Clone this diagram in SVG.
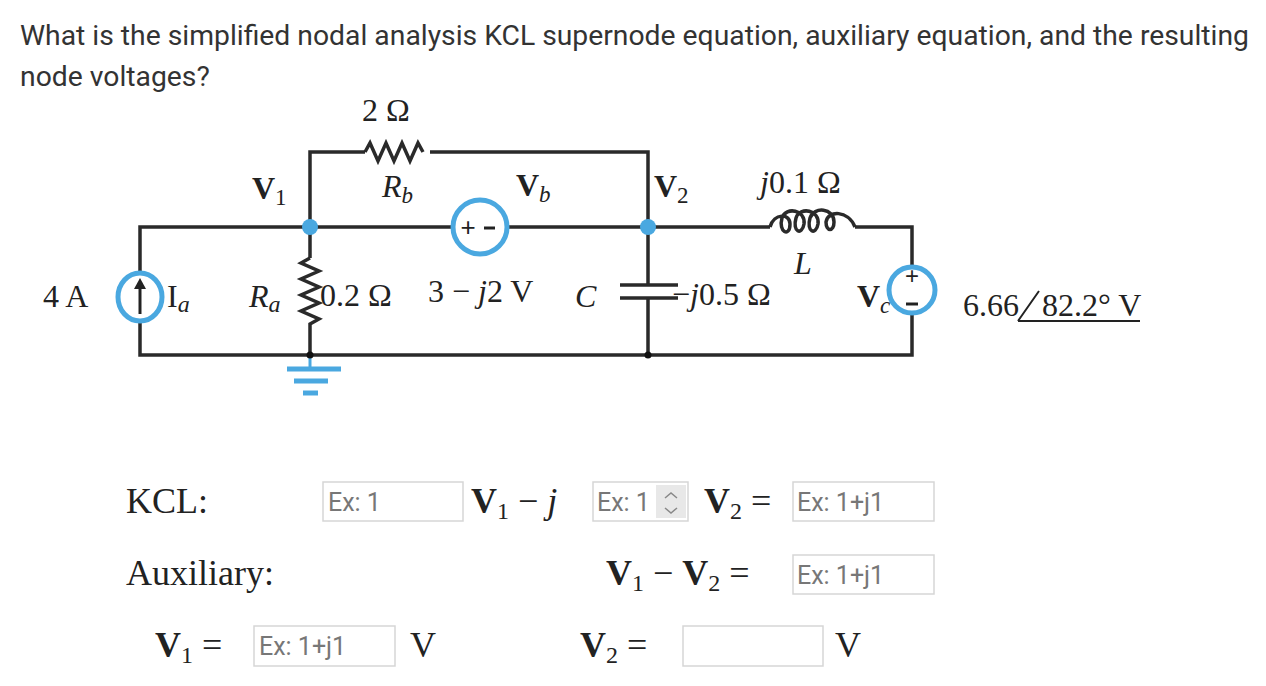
<svg xmlns="http://www.w3.org/2000/svg" width="1266" height="686" viewBox="0 0 1266 686">
<style>
.q{font-family:Roboto,"Liberation Sans",sans-serif;font-size:28.3px;fill:#333}
.s{font-family:"Liberation Serif",serif;font-size:32px;fill:#222}
.m{font-family:"Liberation Serif",serif;font-size:36px;fill:#222}
.w{fill:none;stroke:#2a2a2a;stroke-width:3.5}
.src{fill:#fff;stroke:#4aa8e0;stroke-width:5}
.box{fill:#fff;stroke:#d6d6d6;stroke-width:1.5}
.ph{font-family:Roboto,"Liberation Sans",sans-serif;font-size:25px;fill:#777}
</style>
<rect width="1266" height="686" fill="#fff"/>
<text class="q" x="20" y="45">What is the simplified nodal analysis KCL supernode equation, auxiliary equation, and the resulting</text>
<text class="q" x="20" y="86">node voltages?</text>
<g id="wires">
<path class="w" d="M310 227 V152 H365 M430 152 H648 V227"/>
<path class="w" d="M140 273 V227 H452 M508 227 H770 M855 227 H912 V267"/>
<path class="w" d="M140 321 V355 H912 V313"/>
<path class="w" d="M310 227 V258 M310 330 V355"/>
<path class="w" d="M648 227 V285 M648 298 V355"/>
<path class="w" d="M365 152 l5 -9 l8 18 l8 -18 l8 18 l8 -18 l8 18 l8 -18 l5 9"/>
<path class="w" d="M310 258 l-9 5 l18 8 l-18 8 l18 8 l-18 8 l18 8 l-18 8 l18 8 l-9 5 V330"/>
<path class="w" d="M620 285 H678 M620 298 H678" stroke-width="4"/>
<path class="w" d="M770 227 C774 213 790 213 790 224 C790 238 778 232 782 218 C786 206 806 210 804 224 C802 236 792 232 796 218 C800 206 820 210 818 224 C816 236 806 232 810 218 C814 206 834 208 834 222 C834 232 826 232 826 222 C828 210 848 210 855 227"/>
<line x1="310" y1="355" x2="310" y2="368" stroke="#4aa8e0" stroke-width="3"/>
<line x1="287" y1="369" x2="341" y2="369" stroke="#4aa8e0" stroke-width="5"/>
<line x1="294" y1="381" x2="328" y2="381" stroke="#4aa8e0" stroke-width="5"/>
<line x1="303" y1="393" x2="318" y2="393" stroke="#4aa8e0" stroke-width="5"/>
</g>
<g id="Ia"><ellipse class="src" cx="140" cy="297" rx="22" ry="24"/><path d="M140 314 V284" stroke="#222" stroke-width="3"/><path d="M134 289 L140 278 L146 289 Z" fill="#222"/></g>
<g id="Vb"><circle class="src" cx="480" cy="227" r="27"/><text x="468" y="236" font-family="Liberation Sans,sans-serif" font-size="26" fill="#222" text-anchor="middle">+</text><path d="M484 228 H495" stroke="#222" stroke-width="3"/></g>
<g id="Vc"><circle class="src" cx="912" cy="290" r="23"/><text x="912" y="284" font-family="Liberation Sans,sans-serif" font-size="24" fill="#222" text-anchor="middle">+</text><path d="M906 304 H918" stroke="#222" stroke-width="3"/></g>
<g id="nodes"><circle cx="310" cy="227" r="8" fill="#4aa8e0"/><circle cx="648" cy="227" r="8" fill="#4aa8e0"/><circle cx="310" cy="355" r="3.5" fill="#111"/><circle cx="648" cy="355" r="3.5" fill="#111"/></g>
<g id="labels" class="s">
<text x="362" y="121">2 Ω</text>
<text x="382" y="197" font-style="italic">R<tspan font-size="23" dy="6">b</tspan></text>
<text x="252" y="199" font-weight="bold">V<tspan font-size="23" dy="6" font-weight="normal">1</tspan></text>
<text x="516" y="196" font-weight="bold">V<tspan font-size="23" dy="6" font-weight="normal" font-style="italic">b</tspan></text>
<text x="654" y="197" font-weight="bold">V<tspan font-size="23" dy="6" font-weight="normal">2</tspan></text>
<text x="760" y="193"><tspan font-style="italic">j</tspan>0.1 Ω</text>
<text x="794" y="274" font-style="italic">L</text>
<text x="43" y="307">4 A</text>
<text x="167" y="307">I<tspan font-size="24" dy="5" font-style="italic">a</tspan></text>
<text x="249" y="307" font-style="italic">R<tspan font-size="24" dy="5">a</tspan></text>
<text x="320" y="306">0.2 Ω</text>
<text x="428" y="302">3 − <tspan font-style="italic">j</tspan>2 V</text>
<text x="575" y="307" font-style="italic">C</text>
<text x="672" y="305">−<tspan font-style="italic">j</tspan>0.5 Ω</text>
<text x="857" y="307" font-weight="bold">V<tspan font-size="23" dy="6" font-weight="normal" font-style="italic">c</tspan></text>
<text x="963" y="316">6.66</text>
<path d="M1018 321 L1039 291 M1018 321 H1140" stroke="#222" stroke-width="2" fill="none"/>
<text x="1042" y="316">82.2° V</text>
</g>
<g id="form">
<text class="m" x="126" y="513">KCL:</text>
<rect class="box" x="323" y="482" width="140" height="39"/><text class="ph" x="328" y="511">Ex: 1</text>
<text class="m" x="471" y="513" font-weight="bold">V<tspan font-size="24" dy="6" font-weight="normal">1</tspan><tspan dy="-6" font-weight="normal"> − </tspan><tspan font-style="italic" font-weight="normal">j</tspan></text>
<rect class="box" x="593" y="482" width="95" height="39"/><text class="ph" x="597" y="511">Ex: 1</text>
<rect x="656" y="485" width="30" height="33" fill="#e8e8e8"/><path d="M665 498 l6 -5 l6 5 M665 508 l6 5 l6 -5" stroke="#888" stroke-width="1.5" fill="none"/>
<text class="m" x="704" y="513" font-weight="bold">V<tspan font-size="24" dy="6" font-weight="normal">2</tspan><tspan dy="-6" font-weight="normal"> =</tspan></text>
<rect class="box" x="793" y="482" width="141" height="39"/><text class="ph" x="797" y="511">Ex: 1+j1</text>
<text class="m" x="126" y="585">Auxiliary:</text>
<text class="m" x="606" y="585" font-weight="bold">V<tspan font-size="24" dy="6" font-weight="normal">1</tspan><tspan dy="-6" font-weight="normal"> − </tspan>V<tspan font-size="24" dy="6" font-weight="normal">2</tspan><tspan dy="-6" font-weight="normal"> =</tspan></text>
<rect class="box" x="793" y="555" width="141" height="39"/><text class="ph" x="797" y="584">Ex: 1+j1</text>
<text class="m" x="155" y="657" font-weight="bold">V<tspan font-size="24" dy="6" font-weight="normal">1</tspan><tspan dy="-6" font-weight="normal"> =</tspan></text>
<rect class="box" x="254" y="626" width="141" height="40"/><text class="ph" x="259" y="655">Ex: 1+j1</text>
<text class="m" x="410" y="657">V</text>
<text class="m" x="580" y="657" font-weight="bold">V<tspan font-size="24" dy="6" font-weight="normal">2</tspan><tspan dy="-6" font-weight="normal"> =</tspan></text>
<rect class="box" x="683" y="626" width="140" height="40"/>
<text class="m" x="835" y="657">V</text>
</g>
</svg>
